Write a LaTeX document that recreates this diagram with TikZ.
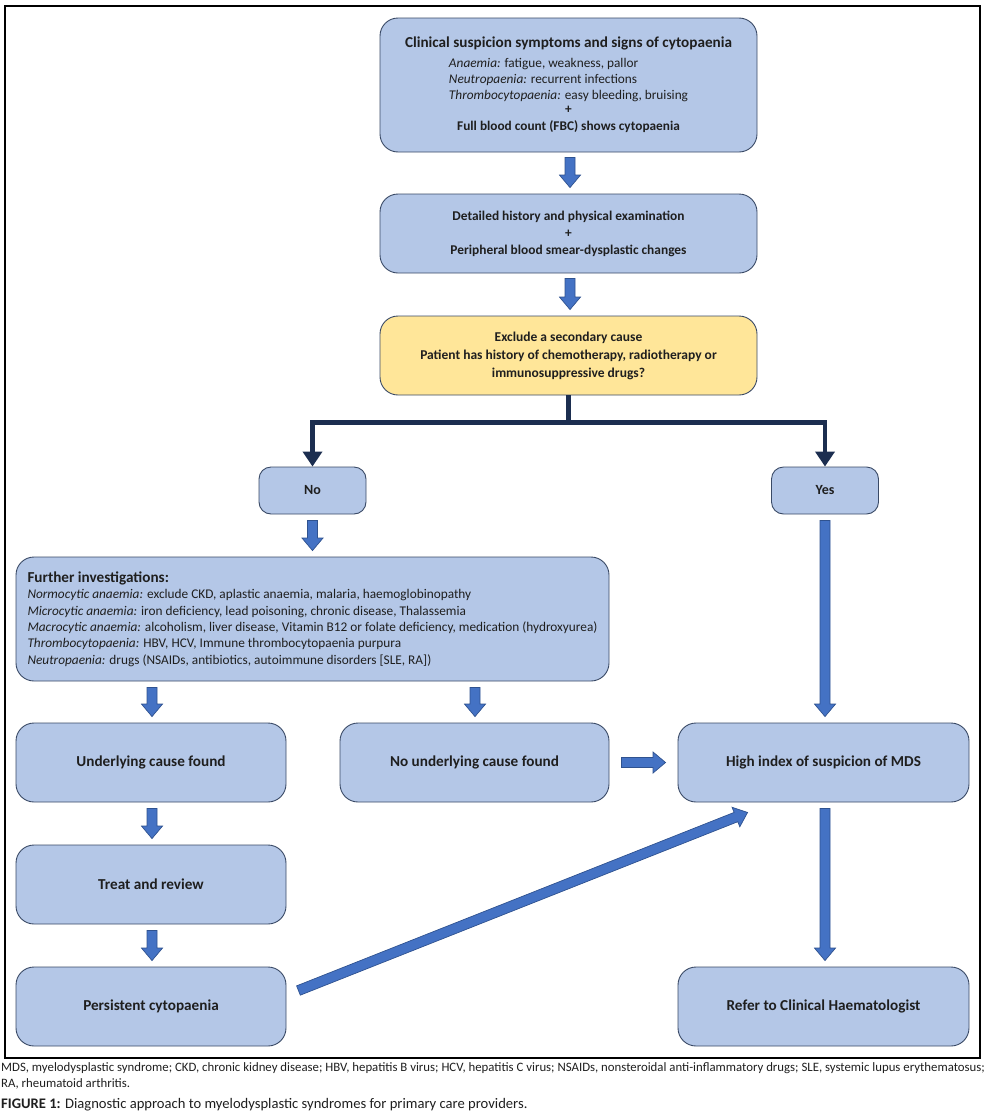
\documentclass[tikz,border=0pt]{standalone}
\usepackage{fontspec}
\setmainfont{Carlito}
\usetikzlibrary{arrows.meta,calc,positioning}
\definecolor{boxblue}{HTML}{B4C7E7}
\definecolor{boxline}{HTML}{3A4A66}
\definecolor{boxyellow}{HTML}{FFE699}
\definecolor{arrfill}{HTML}{4472C4}
\definecolor{arrline}{HTML}{2F528F}
\definecolor{decline}{HTML}{1C2E50}
\definecolor{txt}{HTML}{1F1F1F}
\tikzset{
  flowbox/.style={draw=boxline, line width=0.9pt, fill=boxblue, rounded corners=18pt,
    text=txt, align=center, inner sep=0pt, minimum width=#1},
  flowbox/.default=270pt,
  smallbox/.style={draw=boxline, line width=0.9pt, fill=boxblue, rounded corners=12pt,
    text=txt, align=center, inner sep=0pt, minimum width=107pt, minimum height=47pt,
    font=\bfseries\fontsize{14}{16}\selectfont},
  barrow/.style={fill=arrfill, draw=arrline, line width=0.7pt, line join=miter},
  decision/.style={draw=decline, line width=4.5pt, line join=miter,
    -{Triangle[width=19pt,length=15pt]}}
}
\newcommand\blockarrow[2]{%
  \path #1 coordinate (ba-s);
  \path #2 coordinate (ba-e);
  \path ($(ba-e)!12.5pt!(ba-s)$) coordinate (ba-h);
  \filldraw[barrow] ($(ba-s)!5pt!90:(ba-e)$) -- ($(ba-h)!5pt!90:(ba-e)$) --
    ($(ba-h)!10.5pt!90:(ba-e)$) -- (ba-e) -- ($(ba-h)!10.5pt!-90:(ba-e)$) --
    ($(ba-h)!5pt!-90:(ba-e)$) -- ($(ba-s)!5pt!-90:(ba-e)$) -- cycle;}
\begin{document}
\begin{tikzpicture}[x=1pt,y=-1pt]
\useasboundingbox (0,0) rectangle (999,1119);
\draw[line width=1.5pt] (5,6) rectangle (980,1058);

% boxes
\node[flowbox=377pt, minimum height=134pt, font=\bfseries\fontsize{13.3}{17}\selectfont] (top) at (568.5,85) {%
  {\fontsize{15.2}{16}\selectfont Clinical suspicion symptoms and signs of cytopaenia}\\[5pt]
  {\mdseries\fontsize{13.3}{16}\selectfont\begin{tabular}{@{}l@{}}
  \textit{Anaemia:} fatigue, weakness, pallor\\
  \textit{Neutropaenia:} recurrent infections\\
  \textit{Thrombocytopaenia:} easy bleeding, bruising
  \end{tabular}}\\[1pt]
  +\\ Full blood count (FBC) shows cytopaenia};

\node[flowbox=377pt, minimum height=79pt, font=\bfseries\fontsize{13.4}{17}\selectfont] (hist) at (568.5,233.5)
  {Detailed history and physical examination\\ +\\ Peripheral blood smear-dysplastic changes};

\node[flowbox=377pt, minimum height=79pt, fill=boxyellow, font=\bfseries\fontsize{13.5}{18}\selectfont] (excl) at (568.5,355.5)
  {Exclude a secondary cause\\ Patient has history of chemotherapy, radiotherapy or\\ immunosuppressive drugs?};

\node[smallbox] (no) at (312.5,490.5) {No};
\node[smallbox] (yes) at (825,490.5) {Yes};

\node[flowbox=593pt, minimum height=124pt, align=left, font=\fontsize{13.3}{16.4}\selectfont] (further) at (312.5,619)
  {{\bfseries\fontsize{15.2}{16}\selectfont Further investigations:}\\
  \textit{Normocytic anaemia:} exclude CKD, aplastic anaemia, malaria, haemoglobinopathy\\
  \textit{Microcytic anaemia:} iron deficiency, lead poisoning, chronic disease, Thalassemia\\
  \textit{Macrocytic anaemia:} alcoholism, liver disease, Vitamin B12 or folate deficiency, medication (hydroxyurea)\\
  \textit{Thrombocytopaenia:} HBV, HCV, Immune thrombocytopaenia purpura\\
  \textit{Neutropaenia:} drugs (NSAIDs, antibiotics, autoimmune disorders [SLE, RA])};

\begin{scope}[every node/.append style={font=\bfseries\fontsize{15.2}{17}\selectfont}]
\node[flowbox=270pt, minimum height=79pt] (under) at (151,762.5) {Underlying cause found};
\node[flowbox=269pt, minimum height=79pt] (nounder) at (474.5,762.5) {No underlying cause found};
\node[flowbox=291pt, minimum height=79pt] (high) at (823.5,762.5) {High index of suspicion of MDS};
\node[flowbox=270pt, minimum height=79pt] (treat) at (151,884.5) {Treat and review};
\node[flowbox=270pt, minimum height=79pt] (persist) at (151,1006.5) {Persistent cytopaenia};
\node[flowbox=291pt, minimum height=79pt] (refer) at (823.5,1006.5) {Refer to Clinical Haematologist};
\end{scope}

% decision connectors
\draw[decision] (excl.south) -- ++(0,27) -| (no.north);
\draw[decision] (excl.south) -- ++(0,27) -| (yes.north);

% block arrows
\blockarrow{($(top.south)+(1.5,5)$)}{($(hist.north)+(1.5,-6)$)}
\blockarrow{($(hist.south)+(1.5,5)$)}{($(excl.north)+(1.5,-6)$)}
\blockarrow{($(no.south)+(0,6)$)}{($(further.north -| no)+(0,-6)$)}
\blockarrow{($(further.south -| under)+(1,6)$)}{($(under.north)+(1,-6)$)}
\blockarrow{($(further.south -| nounder)+(0.5,6)$)}{($(nounder.north)+(0.5,-6)$)}
\blockarrow{($(yes.south)+(0,6)$)}{($(high.north -| yes)+(0,-6)$)}
\blockarrow{($(nounder.east)+(12,0)$)}{($(high.west)+(-12,0)$)}
\blockarrow{($(under.south)+(1,6)$)}{($(treat.north)+(1,-6)$)}
\blockarrow{($(treat.south)+(1,6)$)}{($(persist.north)+(1,-6)$)}
\blockarrow{($(high.south -| yes)+(0,6)$)}{($(refer.north -| yes)+(0,-6)$)}
\blockarrow{($(persist.east)+(12,-16)$)}{($(high.south west)+(70,10)$)}

% footnote and caption
\node[anchor=north west, inner sep=0pt, align=left, text=txt, font=\fontsize{12.8}{16}\selectfont] (foot) at (1,1062)
  {MDS, myelodysplastic syndrome; CKD, chronic kidney disease; HBV, hepatitis B virus; HCV, hepatitis C virus; NSAIDs, nonsteroidal anti-inflammatory drugs; SLE, systemic lupus erythematosus;\\
   RA, rheumatoid arthritis.};
\node[anchor=north west, inner sep=0pt, align=left, text=txt, font=\fontsize{14.6}{16}\selectfont] (cap) at (1,1098)
  {\textbf{FIGURE 1:} Diagnostic approach to myelodysplastic syndromes for primary care providers.};
\end{tikzpicture}
\end{document}
